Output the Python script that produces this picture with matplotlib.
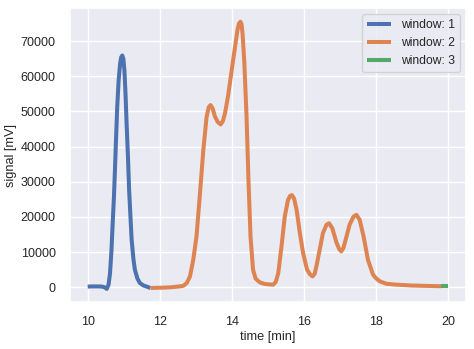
import matplotlib
matplotlib.use("Agg")
import matplotlib.pyplot as plt
import seaborn as sns

# window 1
t_w1 = [10.0, 10.1, 10.2, 10.3, 10.4, 10.47, 10.53, 10.58, 10.62, 10.66, 10.69,
        10.73, 10.76, 10.79, 10.82, 10.86, 10.9, 10.93, 10.96, 10.99, 11.02,
        11.05, 11.08, 11.12, 11.15, 11.19, 11.22, 11.27, 11.31, 11.38, 11.45,
        11.55, 11.64, 11.74]
s_w1 = [200, 250, 250, 250, 200, 0, -450, 800, 4000, 10500, 17300,
        26000, 34300, 43000, 51300, 59000, 63600, 65400, 65900, 65000, 61600,
        55000, 46600, 36500, 27700, 19500, 13500, 8000, 5000, 2500, 1200,
        500, 200, -200]

# window 2
t_w2 = [11.74, 11.9, 12.1, 12.3, 12.5, 12.65, 12.75, 12.84, 12.93, 13.02,
        13.11, 13.21, 13.3, 13.36, 13.41, 13.47, 13.53, 13.61, 13.69, 13.75,
        13.81, 13.9, 13.99, 14.09, 14.16, 14.2, 14.24, 14.27, 14.3, 14.35,
        14.41, 14.46, 14.52, 14.59, 14.66, 14.73, 14.8, 14.9, 15.0, 15.15,
        15.22, 15.29, 15.38, 15.47, 15.56, 15.62, 15.67, 15.73, 15.8, 15.89,
        15.98, 16.09, 16.17, 16.24, 16.3, 16.35, 16.44, 16.53, 16.63, 16.7,
        16.79, 16.91, 16.98, 17.04, 17.1, 17.16, 17.27, 17.38, 17.46, 17.55,
        17.66, 17.78, 17.92, 18.0, 18.11, 18.29, 18.57, 19.0, 19.4, 19.82]
s_w2 = [-200, -150, -100, 0, 200, 400, 1200, 3100, 7800, 14400,
        25800, 39000, 48400, 51200, 51800, 50800, 48600, 47000, 46300, 47200,
        49400, 54600, 61200, 68300, 73300, 75000, 75500, 74800, 72000, 63500,
        48400, 31400, 14400, 5000, 2500, 1800, 1300, 1000, 850, 750,
        1500, 4000, 11600, 20100, 24800, 26000, 26200, 25200, 22000, 15400,
        9700, 5000, 3700, 3100, 3800, 6000, 10700, 15400, 17800, 18200,
        16800, 12600, 10900, 10200, 11200, 13500, 17800, 20100, 20600, 19200,
        14400, 7800, 3600, 2600, 1700, 1000, 750, 500, 400, 300]

# window 3
t_w3 = [19.82, 19.9, 20.0]
s_w3 = [300, 300, 300]

windows = [(t_w1, s_w1, "window: 1"), (t_w2, s_w2, "window: 2"), (t_w3, s_w3, "window: 3")]

sns.set_theme(style="darkgrid")
plt.rcParams['font.family'] = ['Liberation Sans', 'DejaVu Sans']

fig, ax = plt.subplots(figsize=(4.74, 3.49), dpi=100)
colors = sns.color_palette("deep")
for i, (t, s, lab) in enumerate(windows):
    ax.plot(t, s, color=colors[i], lw=2.9, label=lab,
            solid_joinstyle='round', solid_capstyle='butt')

ax.set_xticks([10, 12, 14, 16, 18, 20])
ax.set_yticks(range(0, 70001, 10000))
ax.tick_params(labelsize=9, pad=4)
ax.set_xlabel("time [min]", fontsize=9.2, labelpad=2)
ax.set_ylabel("signal [mV]", fontsize=9.2, labelpad=3)
ax.legend(loc="upper right", fontsize=8.7)
fig.subplots_adjust(left=0.147, right=0.983, top=0.976, bottom=0.134)
fig.savefig("out.png", dpi=100)
